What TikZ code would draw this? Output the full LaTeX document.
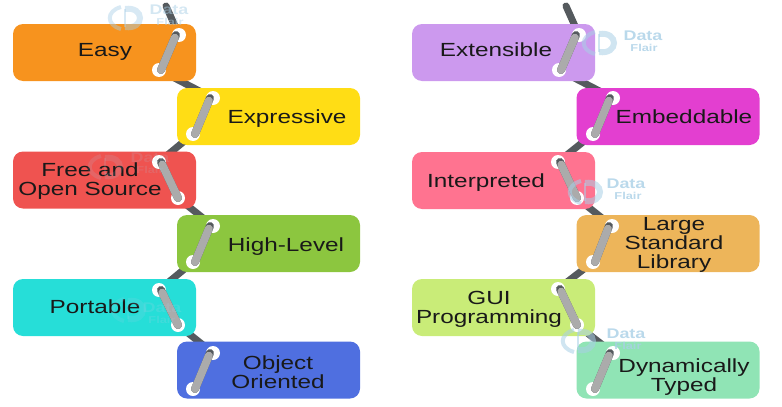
\documentclass[tikz,border=0pt]{standalone}
\usepackage{fontspec}
\setmainfont[FakeStretch=1.28]{Liberation Sans}
\usetikzlibrary{positioning,backgrounds}
\definecolor{easyc}{HTML}{F7931E}
\definecolor{exprc}{HTML}{FFDD15}
\definecolor{freec}{HTML}{EF5350}
\definecolor{highc}{HTML}{8CC63F}
\definecolor{portc}{HTML}{26DED8}
\definecolor{objc}{HTML}{4F6FE0}
\definecolor{extc}{HTML}{CC99EE}
\definecolor{embc}{HTML}{E33FD0}
\definecolor{intc}{HTML}{FF7390}
\definecolor{largec}{HTML}{EDB55A}
\definecolor{guic}{HTML}{C9EC78}
\definecolor{dync}{HTML}{90E4B5}
\definecolor{stringc}{HTML}{555A5E}
\definecolor{barc}{HTML}{ABABAB}
\definecolor{markc}{HTML}{A9CFE6}
\begin{document}
\begin{tikzpicture}[x=1pt,y=-1pt,
  box/.style={fill=#1,rounded corners=10pt,minimum width=183pt,minimum height=57pt,inner sep=0pt},
  txt/.style={align=center,inner sep=0pt,text=black!90,font=\fontsize{19}{19}\selectfont},
  hole/.style={circle,fill=white,minimum size=14pt,inner sep=0pt},
  rope/.style={draw=stringc,line width=7pt,line cap=round},
  link/.style={draw=stringc,line width=8pt,line cap=round},
  bar/.style={draw=barc,line width=8pt,line cap=round,shorten <=3pt},
  mdata/.style={inner sep=0pt,text=markc,font=\bfseries\fontsize{14}{14}\selectfont},
  mflair/.style={inner sep=0pt,text=markc,font=\bfseries\fontsize{10}{10}\selectfont},
  logo/.pic={
    \draw[markc,line width=4pt] (-6,-11) .. controls (-21,-7) and (-21,7) .. (-6,11);
    \draw[markc,line width=6pt] (-2,-9) .. controls (18,-12) and (18,12) .. (-2,9);
    \draw[markc,line width=2pt] (-2,-9) -- (-2,9);
  }]
  \useasboundingbox (0,0) rectangle (782,407);
  % left column
  \node[box=easyc] (easy) at (104.5,52.5) {};
  \node[box=exprc] (expr) at (268.5,116.5) {};
  \node[box=freec] (free) at (104.5,180) {};
  \node[box=highc] (high) at (268.5,243.5) {};
  \node[box=portc] (port) at (104.5,307.5) {};
  \node[box=objc] (obj) at (268.5,370) {};
  % right column
  \node[box=extc] (ext) at (503.5,52.5) {};
  \node[box=embc] (emb) at (668,116.5) {};
  \node[box=intc] (int) at (503.5,180.5) {};
  \node[box=largec] (large) at (668,243.5) {};
  \node[box=guic] (gui) at (503.5,307.5) {};
  \node[box=dync] (dyn) at (668,370) {};

  \node[txt] (easyt) at (105,52) {Easy};
  \node[txt] (exprt) at (287,119) {Expressive};
  \node[txt] (freet) at (90,181) {Free and\\Open Source};
  \node[txt] (hight) at (286,247) {High-Level};
  \node[txt] (portt) at (95,307) {Portable};
  \node[txt] (objt) at (278,372) {Object\\Oriented};
  \node[txt] (extt) at (496,50) {Extensible};
  \node[txt] (embt) at (684,117) {Embeddable};
  \node[txt] (intt) at (486,183) {Interpreted};
  \node[txt] (larget) at (674,245) {Large\\Standard\\Library};
  \node[txt] (guit) at (489,309) {GUI\\Programming};
  \node[txt] (dynt) at (684,377) {Dynamically\\Typed};

  \coordinate (starta) at (166,6);
  \coordinate (startb) at (566,6);
  \node[hole] (a1) at (179,35) {};
  \node[hole] (a2) at (159,70) {};
  \node[hole] (b1) at (213,98) {};
  \node[hole] (b2) at (193,134) {};
  \node[hole] (c1) at (159,162) {};
  \node[hole] (c2) at (178,198) {};
  \node[hole] (d1) at (213,226) {};
  \node[hole] (d2) at (193,262) {};
  \node[hole] (e1) at (159,290) {};
  \node[hole] (e2) at (178,325) {};
  \node[hole] (f1) at (213,353) {};
  \node[hole] (f2) at (193,389) {};
  \node[hole] (g1) at (579,35) {};
  \node[hole] (g2) at (559,70) {};
  \node[hole] (h1) at (613,98) {};
  \node[hole] (h2) at (593,134) {};
  \node[hole] (i1) at (558,162) {};
  \node[hole] (i2) at (577,198) {};
  \node[hole] (j1) at (612,226) {};
  \node[hole] (j2) at (593,262) {};
  \node[hole] (k1) at (558,289) {};
  \node[hole] (k2) at (577,325) {};
  \node[hole] (l1) at (613,353) {};
  \node[hole] (l2) at (593,389) {};

  \begin{scope}[on background layer]
    \draw[rope] (starta) -- (a1);
    \draw[rope] (a2) -- (b1);
    \draw[rope] (b2) -- (c1);
    \draw[rope] (c2) -- (d1);
    \draw[rope] (d2) -- (e1);
    \draw[rope] (e2) -- (f1);
    \draw[rope] (startb) -- (g1);
    \draw[rope] (g2) -- (h1);
    \draw[rope] (h2) -- (i1);
    \draw[rope] (i2) -- (j1);
    \draw[rope] (j2) -- (k1);
    \draw[rope] (k2) -- (l1);
  \end{scope}

  \draw[link] ([xshift=-3pt]a1.center) -- ([xshift=2pt]a2.center);
  \draw[bar] ([xshift=-3pt]a1.center) -- ([xshift=2pt]a2.center);
  \draw[link] ([xshift=-3pt]b1.center) -- ([xshift=2pt]b2.center);
  \draw[bar] ([xshift=-3pt]b1.center) -- ([xshift=2pt]b2.center);
  \draw[link] ([xshift=2pt]c1.center) -- (c2.center);
  \draw[bar] ([xshift=2pt]c1.center) -- (c2.center);
  \draw[link] ([xshift=-3pt]d1.center) -- ([xshift=2pt]d2.center);
  \draw[bar] ([xshift=-3pt]d1.center) -- ([xshift=2pt]d2.center);
  \draw[link] ([xshift=2pt]e1.center) -- (e2.center);
  \draw[bar] ([xshift=2pt]e1.center) -- (e2.center);
  \draw[link] ([xshift=-3pt]f1.center) -- ([xshift=2pt]f2.center);
  \draw[bar] ([xshift=-3pt]f1.center) -- ([xshift=2pt]f2.center);
  \draw[link] ([xshift=-3pt]g1.center) -- ([xshift=2pt]g2.center);
  \draw[bar] ([xshift=-3pt]g1.center) -- ([xshift=2pt]g2.center);
  \draw[link] ([xshift=-3pt]h1.center) -- ([xshift=2pt]h2.center);
  \draw[bar] ([xshift=-3pt]h1.center) -- ([xshift=2pt]h2.center);
  \draw[link] ([xshift=2pt]i1.center) -- (i2.center);
  \draw[bar] ([xshift=2pt]i1.center) -- (i2.center);
  \draw[link] ([xshift=-3pt]j1.center) -- ([xshift=2pt]j2.center);
  \draw[bar] ([xshift=-3pt]j1.center) -- ([xshift=2pt]j2.center);
  \draw[link] ([xshift=2pt]k1.center) -- (k2.center);
  \draw[bar] ([xshift=2pt]k1.center) -- (k2.center);
  \draw[link] ([xshift=-3pt]l1.center) -- ([xshift=2pt]l2.center);
  \draw[bar] ([xshift=-3pt]l1.center) -- ([xshift=2pt]l2.center);

  % watermarks
  \pic[opacity=.45] at (127,18) {logo};
  \node[mdata,opacity=.5] (ma1) at (169,10) {Data};
  \node[mflair,opacity=.5] (mb1) at (170,22) {Flair};
  \pic[opacity=.55] at (601,43) {logo};
  \node[mdata,opacity=.8] (ma2) at (643,36) {Data};
  \node[mflair,opacity=.8] (mb2) at (644,48) {Flair};
  \pic[opacity=.15] at (107,167) {logo};
  \node[mdata,opacity=.15] (ma3) at (150,158) {Data};
  \node[mflair,opacity=.15] (mb3) at (150,170) {Flair};
  \pic[opacity=.15] at (130,310) {logo};
  \node[mdata,opacity=.2] (ma4) at (162,308) {Data};
  \node[mflair,opacity=.2] (mb4) at (162,320) {Flair};
  \pic[opacity=.55] at (587,192) {logo};
  \node[mdata,opacity=.8] (ma5) at (626,184) {Data};
  \node[mflair,opacity=.8] (mb5) at (628,196) {Flair};
  \pic[opacity=.55] at (580,341) {logo};
  \node[mdata,opacity=.8] (ma6) at (626,334) {Data};
  \node[mflair,opacity=.8] (mb6) at (628,346) {Flair};
\end{tikzpicture}
\end{document}
